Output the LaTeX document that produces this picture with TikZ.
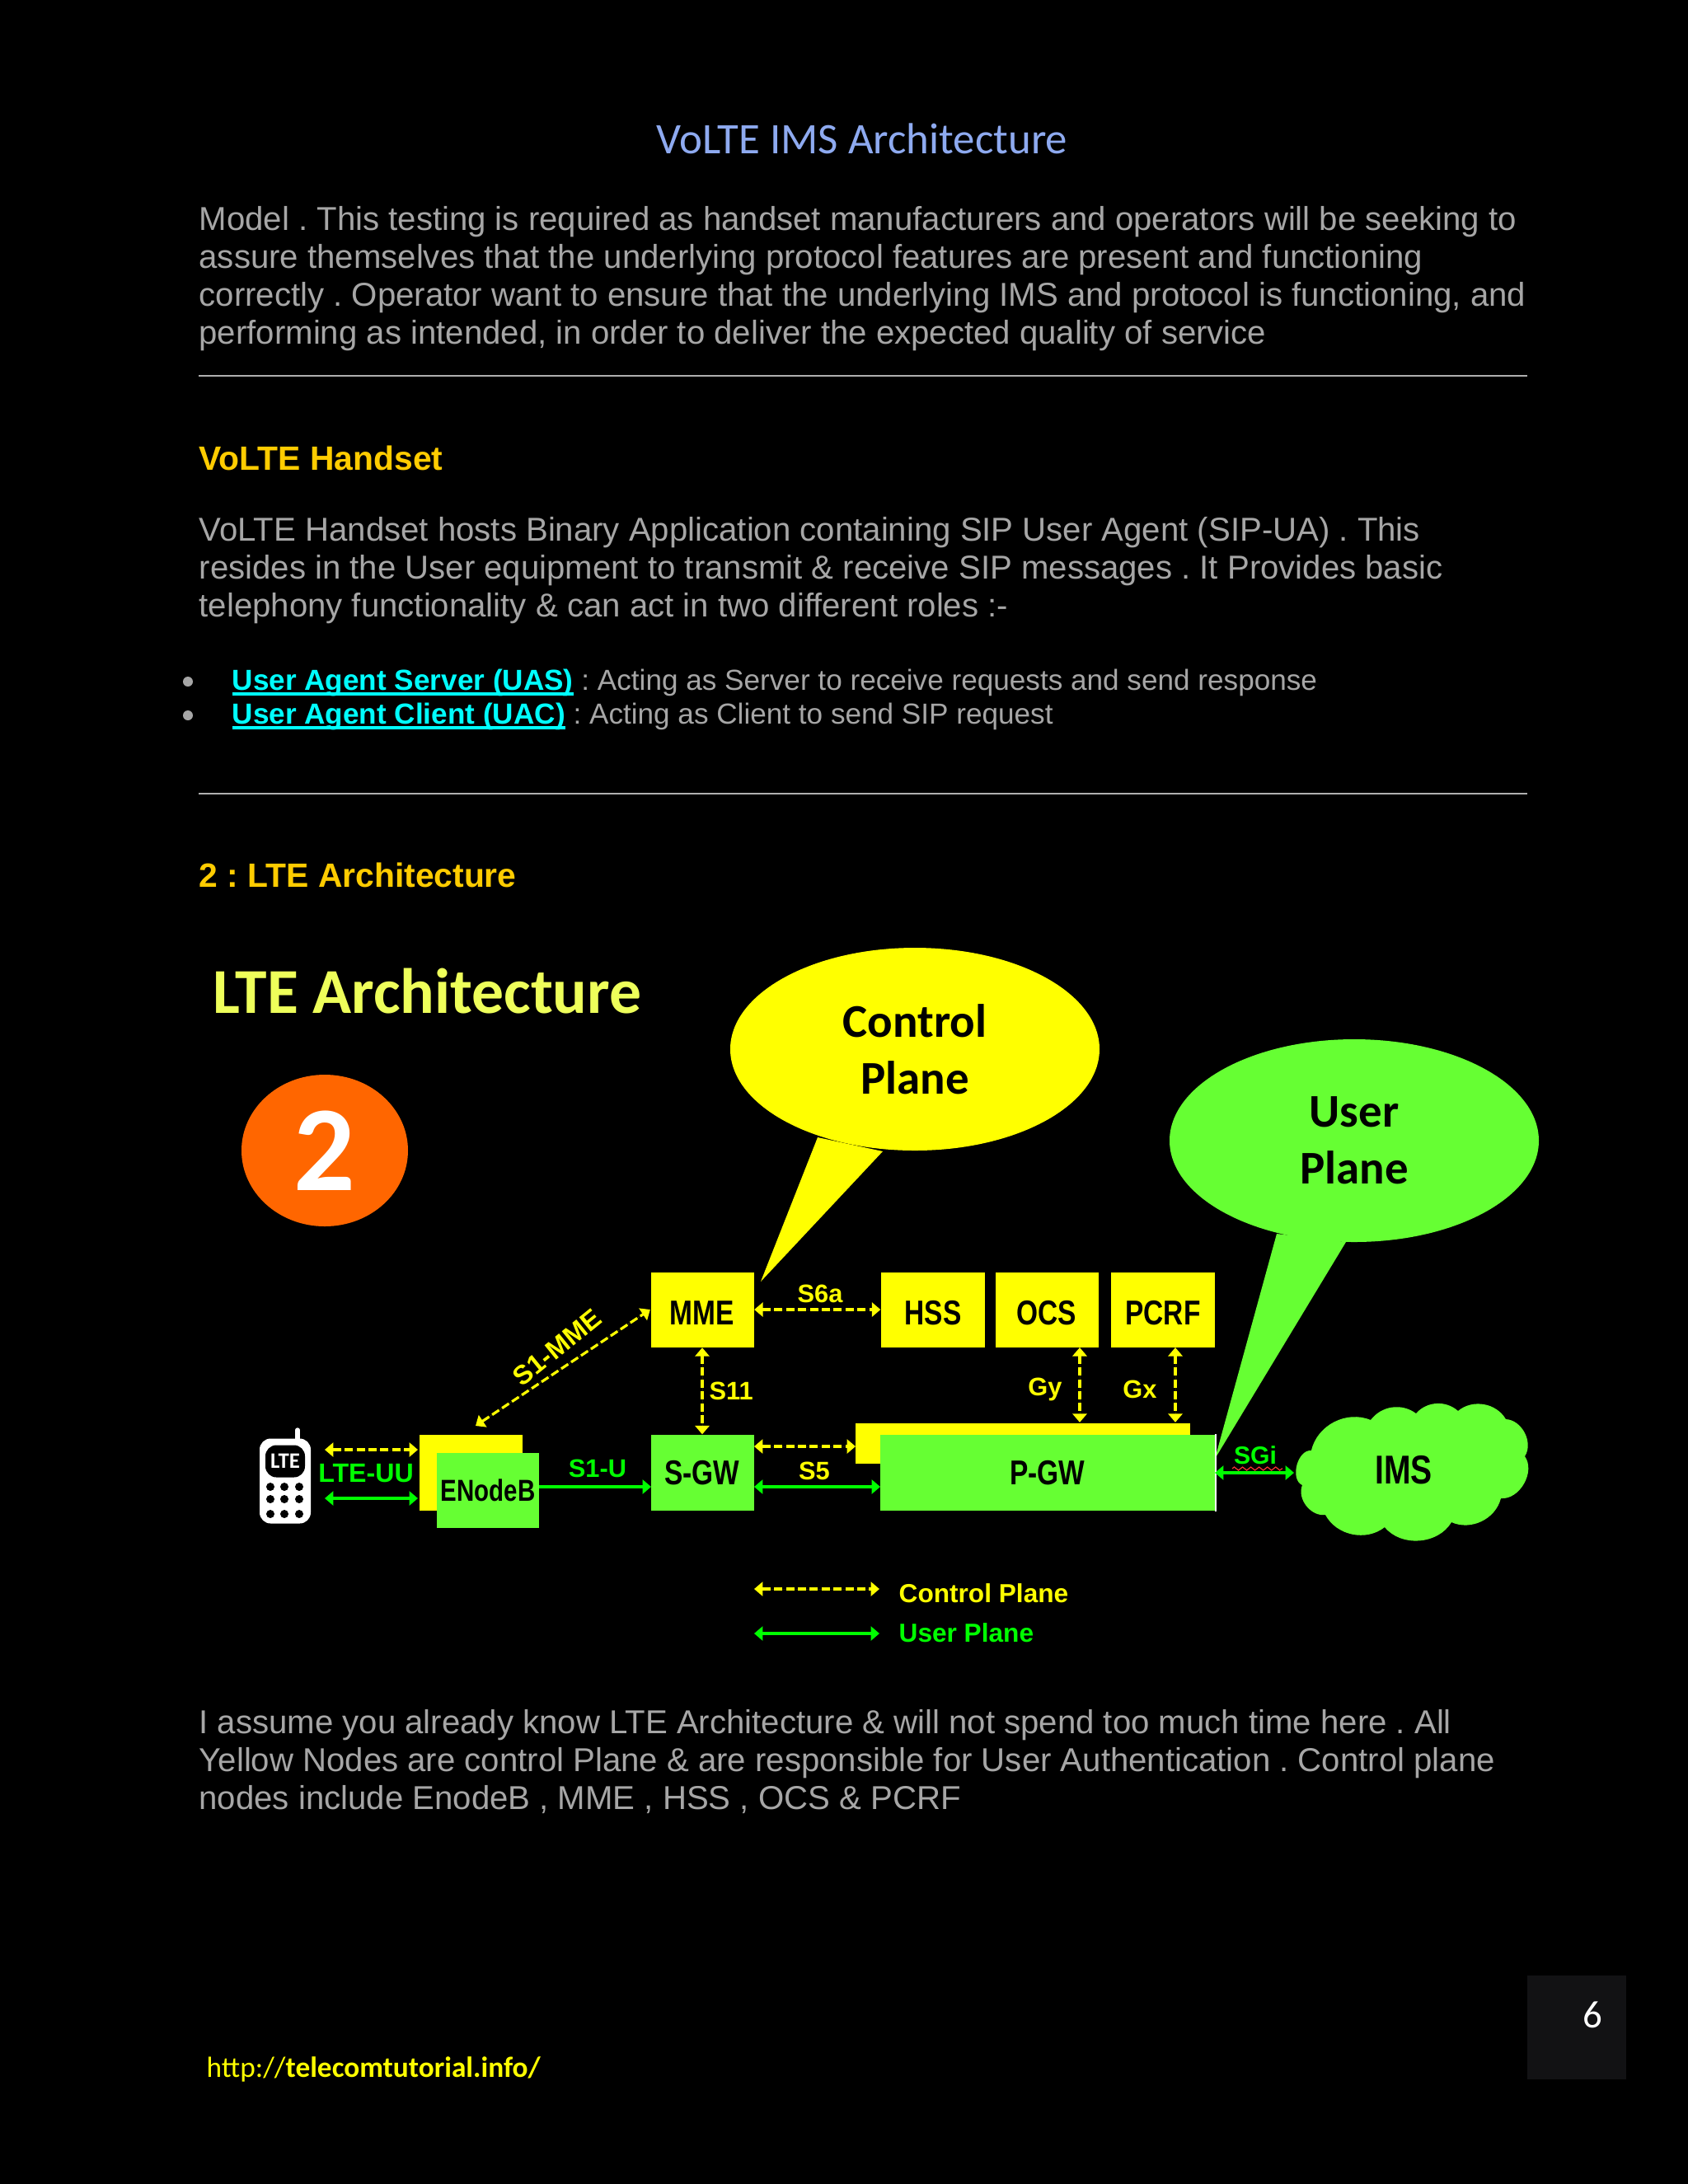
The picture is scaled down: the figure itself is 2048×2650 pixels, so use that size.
\documentclass[tikz,border=0pt]{standalone}
\usepackage{fontspec}
\setmainfont{Liberation Sans}
\newfontfamily\carlito{Carlito}
\newfontfamily\narrowsans[FakeStretch=0.8]{Liberation Sans}
\usetikzlibrary{arrows.meta,positioning,shapes.geometric,decorations.pathmorphing}
\definecolor{pagebg}{RGB}{0,0,0}
\definecolor{bodygrey}{RGB}{166,166,166}
\definecolor{titleblue}{RGB}{142,170,240}
\definecolor{headgold}{RGB}{255,204,0}
\definecolor{linkcyan}{RGB}{0,255,255}
\definecolor{ctrlyellow}{RGB}{255,255,0}
\definecolor{userlime}{RGB}{102,255,51}
\definecolor{arrowgreen}{RGB}{0,255,0}
\definecolor{badgeorange}{RGB}{255,102,0}
\definecolor{banneryellow}{RGB}{238,255,90}
\definecolor{pagebox}{RGB}{18,18,20}
\frenchspacing
\newlength{\linkwd}
\newcommand{\linktext}[1]{\settowidth{\linkwd}{#1}\rlap{\rule[-2pt]{\linkwd}{1.1pt}}#1}
\tikzset{
  bodytext/.style={anchor=north west,inner sep=0pt,align=left,text=bodygrey,
    font=\fontsize{12}{13.75}\selectfont},
  headtext/.style={anchor=west,inner sep=0pt,text=headgold,font=\fontsize{12.2}{14}\selectfont\bfseries},
  bullettext/.style={anchor=west,inner sep=0pt,text=bodygrey,font=\fontsize{10.5}{12}\selectfont},
  rulerline/.style={draw=bodygrey!90!white,line width=.7pt},
  ctrlbox/.style={draw=none,fill=ctrlyellow,inner sep=0pt,text height=11pt,font=\narrowsans\fontsize{12.5}{14}\selectfont\bfseries},
  userbox/.style={draw=none,fill=userlime,inner sep=0pt,font=\narrowsans\fontsize{12.5}{14}\selectfont\bfseries},
  sizedbox/.style args={#1x#2}{minimum width=#1*.2988pt,minimum height=#2*.2988pt},
  ctrllink/.style={{Triangle[length=1.1mm,width=1.8mm]}-{Triangle[length=1.1mm,width=1.8mm]},draw=ctrlyellow,
    fill=ctrlyellow,dash pattern=on 3pt off 1.3pt,line width=.95pt},
  userlink/.style={{Triangle[length=1.1mm,width=1.8mm]}-{Triangle[length=1.1mm,width=1.8mm]},draw=arrowgreen,line width=.95pt},
  useronce/.style={-{Triangle[length=1.1mm,width=1.8mm]},draw=arrowgreen,line width=.95pt},
  ctrllabel/.style={inner sep=0pt,text=ctrlyellow,font=\fontsize{9.2}{11}\selectfont\bfseries},
  userlabel/.style={inner sep=0pt,text=arrowgreen,font=\fontsize{9.2}{11}\selectfont\bfseries},
  bubble/.style={ellipse,draw=none,inner sep=0pt,minimum width=448*.2988pt,minimum height=246*.2988pt,
    align=center,font=\carlito\fontsize{17}{20.5}\selectfont\bfseries},
}
\begin{document}
\begin{tikzpicture}[x=.2988pt,y=-.2988pt]
  \fill[pagebg] (0,0) rectangle (2048,2650);
  \useasboundingbox (0,0) rectangle (2048,2650);
  % page text
  \node[inner sep=0pt,text=titleblue,font=\carlito\fontsize{15.8}{18}\selectfont] (title) at (1046,168) {VoLTE IMS Architecture};
  \node[bodytext] (intro) at (241,250) {Model . This testing is required as handset manufacturers and operators will be seeking to\\
    assure themselves that the underlying protocol features are present and functioning\\
    correctly . Operator want to ensure that the underlying IMS and protocol is functioning, and\\
    performing as intended, in order to deliver the expected quality of service};
  \coordinate (ruleAl) at (241,456);
  \coordinate (ruleAr) at (1853,456);
  \draw[rulerline] (ruleAl) -- (ruleAr);
  \node[headtext] (handsethead) at (241,556) {VoLTE Handset};
  \node[bodytext] (handset) at (241,627) {VoLTE Handset hosts Binary Application containing SIP User Agent (SIP-UA) . This\\
    resides in the User equipment to transmit \& receive SIP messages . It Provides basic\\
    telephony functionality \& can act in two different roles :-};
  \node[bullettext] (uas) at (281,828) {\textcolor{linkcyan}{\bfseries\linktext{User Agent Server (UAS)}} : Acting as Server to receive requests and send response};
  \node[bullettext] (uac) at (281,869) {\textcolor{linkcyan}{\bfseries\linktext{User Agent Client (UAC)}} : Acting as Client to send SIP request};
  \fill[bodygrey] (228,827) circle (6);
  \fill[bodygrey] (228,868) circle (6);
  \coordinate (ruleBl) at (241,963);
  \coordinate (ruleBr) at (1853,963);
  \draw[rulerline] (ruleBl) -- (ruleBr);
  \node[headtext] (ltehead) at (241,1062) {2 : LTE Architecture};
  % banner and badge
  \node[anchor=west,inner sep=0pt,text=banneryellow,font=\carlito\fontsize{23.2}{26}\selectfont\bfseries] (banner) at (258,1203) {LTE Architecture};
  \node[ellipse,fill=badgeorange,inner sep=0pt,minimum width=202*.2988pt,minimum height=184*.2988pt,
    text=white,font=\carlito\fontsize{44}{48}\selectfont\bfseries] (badge) at (394,1396) {2};
  % speech bubbles
  \fill[ctrlyellow] (992,1380) -- (923,1555) -- (1071,1397) -- cycle;
  \node[bubble,fill=ctrlyellow] (ctrlbubble) at (1110,1273) {Control\\Plane};
  \fill[userlime] (1549,1497) -- (1474,1770) -- (1633,1507) -- cycle;
  \node[bubble,fill=userlime] (userbubble) at (1643,1384) {User\\Plane};
  % boxes
  \node[ctrlbox,sizedbox=125x91] (mme) at (852,1589) {MME};
  \node[ctrlbox,sizedbox=126x91] (hss) at (1132,1589) {HSS};
  \node[ctrlbox,sizedbox=125x91] (ocs) at (1270,1589) {OCS};
  \node[ctrlbox,sizedbox=126x91] (pcrf) at (1411,1589) {PCRF};
  \node[userbox,sizedbox=125x92] (sgw) at (852,1787) {S-GW};
  \node[ctrlbox,sizedbox=125x92] (enbctrl) at (571,1787) {};
  \node[userbox,sizedbox=124x91,font=\narrowsans\fontsize{11}{13}\selectfont\bfseries] (enb) at (592,1808) {ENodeB};
  \node[ctrlbox,sizedbox=406x49] (pgwctrl) at (1241,1751) {};
  \node[userbox,sizedbox=406x92] (pgw) at (1271,1787) {P-GW};
  \draw[white,line width=.5pt] (pgw.north east) -- (pgw.south east);
  % phone
  \draw[white,line width=1.6pt,line cap=round] (361,1735) -- (361,1750);
  \node[rounded corners=4pt,fill=white,sizedbox=62x103,inner sep=0pt] (phone) at (346,1797) {};
  \node[rounded corners=4pt,fill=black,sizedbox=48x39,inner sep=0pt,text=white,
    font=\carlito\fontsize{8}{9}\selectfont\bfseries] (phonescreen) at (346,1773) {LTE};
  \foreach \rw in {1804,1819,1837}{
    \foreach \cl in {328,345,363}{
      \fill[black] (\cl,\rw) circle (5);
    }
  }
  % cloud
  \fill[userlime] (1591,1760) to[bend left=50] (1663,1723) to[bend left=45] (1718,1715)
    to[bend left=45] (1769,1712) to[bend left=50] (1827,1722) to[bend left=60] (1850,1767)
    to[bend left=65] (1821,1818) to[bend left=50] (1761,1847) to[bend left=55] (1680,1853)
    to[bend left=50] (1608,1838) to[bend left=60] (1580,1802) to[bend left=80] cycle;
  \node[inner sep=0pt,font=\narrowsans\fontsize{14.6}{16}\selectfont\bfseries] (ims) at (1703,1784) {IMS};
  % connectors
  \coordinate (uuctrl) at (394,1759);
  \coordinate (uuctrlend) at (507,1759);
  \coordinate (uuuser) at (394,1818);
  \coordinate (uuuserend) at (507,1818);
  \draw[ctrllink] (uuctrl) -- (uuctrlend);
  \draw[userlink] (uuuser) -- (uuuserend);
  \node[userlabel,font=\fontsize{9.6}{11}\selectfont\bfseries] (uulabel) at (444,1788) {LTE-UU};
  \coordinate (s1mmeend) at (577,1730);
  \draw[ctrllink] (s1mmeend) -- (mme.west);
  \node[ctrllabel,rotate=39,font=\fontsize{9.7}{11}\selectfont\bfseries] (s1mme) at (676,1635) {S1-MME};
  \coordinate (s1ua) at (654,1804);
  \coordinate (s1ub) at (790,1804);
  \draw[useronce] (s1ua) -- (s1ub);
  \node[userlabel] (s1u) at (725,1782) {S1-U};
  \draw[ctrllink] (mme.south) -- (sgw.north);
  \node[ctrllabel,anchor=west] (s11) at (860,1688) {S11};
  \draw[ctrllink] (mme.east) -- (hss.west);
  \node[ctrllabel] (s6a) at (995,1570) {S6a};
  \coordinate (s5ca) at (915,1755);
  \coordinate (s5cb) at (1038,1755);
  \coordinate (s5ua) at (915,1804);
  \coordinate (s5ub) at (1068,1804);
  \draw[ctrllink] (s5ca) -- (s5cb);
  \draw[userlink] (s5ua) -- (s5ub);
  \node[ctrllabel] (s5) at (988,1785) {S5};
  \coordinate (gytop) at (1310,1635);
  \coordinate (gxtop) at (1426,1635);
  \draw[ctrllink] (gytop) -- (gytop |- pgwctrl.north);
  \draw[ctrllink] (gxtop) -- (gxtop |- pgwctrl.north);
  \node[ctrllabel] (gy) at (1268,1686) {Gy};
  \node[ctrllabel] (gx) at (1383,1686) {Gx};
  \coordinate (sgia) at (1474,1787);
  \coordinate (sgib) at (1570,1787);
  \draw[userlink] (sgia) -- (sgib);
  \node[userlabel,font=\fontsize{9}{11}\selectfont\bfseries] (sgi) at (1523,1766) {SGi};
  \coordinate (sgiwavea) at (1495,1782);
  \coordinate (sgiwaveb) at (1556,1782);
  \draw[red!80!white,line width=.35pt,decorate,decoration={zigzag,segment length=3pt,amplitude=.6pt}] (sgiwavea) -- (sgiwaveb);
  % legend
  \coordinate (legctrll) at (915,1928);
  \coordinate (legctrlr) at (1067,1928);
  \coordinate (leguserl) at (915,1982);
  \coordinate (leguserr) at (1067,1982);
  \draw[ctrllink] (legctrll) -- (legctrlr);
  \draw[userlink] (leguserl) -- (leguserr);
  \node[ctrllabel,anchor=west,font=\fontsize{9.45}{11}\selectfont\bfseries] (legctrl) at (1090,1933) {Control Plane};
  \node[userlabel,anchor=west,font=\fontsize{9.45}{11}\selectfont\bfseries] (leguser) at (1090,1981) {User Plane};
  % closing text
  \node[bodytext] (closing) at (241,2074) {I assume you already know LTE Architecture \& will not spend too much time here . All\\
    Yellow Nodes are control Plane \& are responsible for User Authentication . Control plane\\
    nodes include EnodeB , MME , HSS , OCS \& PCRF};
  % footer
  \node[fill=pagebox,sizedbox=120x126,inner sep=0pt] (pageno) at (1913,2460) {};
  \node[inner sep=0pt,text=white,font=\carlito\fontsize{14}{16}\selectfont] (pagenum) at (1932,2445) {6};
  \node[anchor=west,inner sep=0pt,text=ctrlyellow,font=\carlito\fontsize{10.55}{13}\selectfont] (url) at (250,2511)
    {http://\textbf{telecomtutorial.info/}};
\end{tikzpicture}
\end{document}
